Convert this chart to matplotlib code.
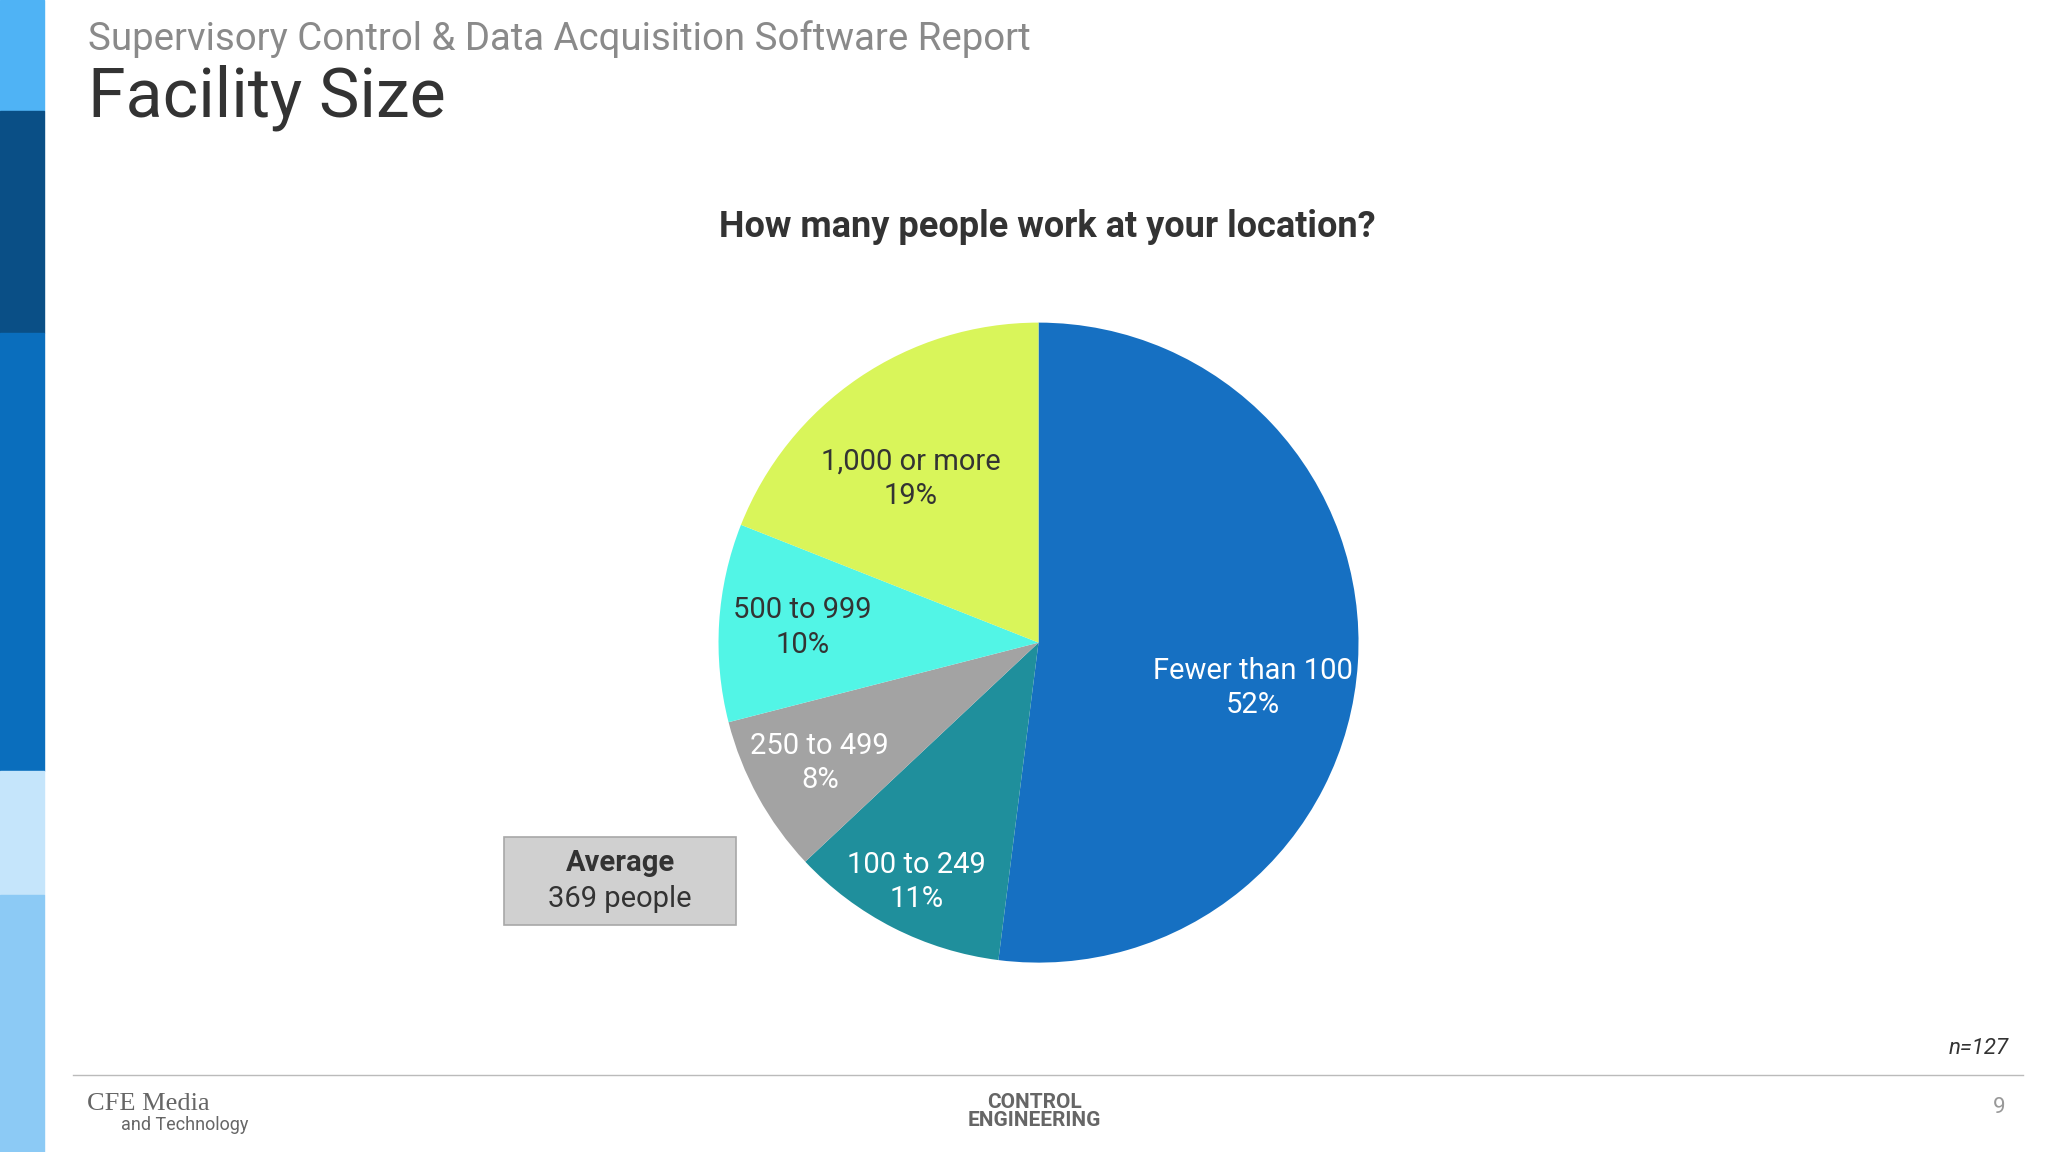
import matplotlib
matplotlib.use("Agg")
import matplotlib.pyplot as plt
import numpy as np
from matplotlib.patches import Rectangle

plt.rcParams['font.family'] = ['Roboto', 'DejaVu Sans']

categories = ["Fewer than 100", "100 to 249", "250 to 499", "500 to 999", "1,000 or more"]
values = [52, 11, 8, 10, 19]
colors = ["#1670c2", "#1f8f9c", "#a3a3a3", "#52f5e6", "#d9f55a"]
text_colors = ["white", "white", "white", "#333333", "#333333"]
label_r = [0.67, 0.84, 0.78, 0.74, 0.62]

W, H = 2048, 1152
fig = plt.figure(figsize=(W/100, H/100), dpi=100)
fig.patch.set_facecolor("white")

stripe = [(0, 85, "#4fb3f5"), (85, 255, "#0a4f86"), (255, 590, "#0a6ebd"),
          (590, 685, "#c5e5fb"), (685, 882, "#8ccaf5")]
for y0, y1, c in stripe:
    fig.patches.append(Rectangle((0, 1 - y1/882), 33/1552, (y1 - y0)/882,
                                 transform=fig.transFigure, color=c, zorder=0))

fig.text(67/1552, 1 - 30/882, "Supervisory Control & Data Acquisition Software Report",
         fontsize=27.6, color="#8a8a8a", va="center")
fig.text(67/1552, 1 - 75/882, "Facility Size", fontsize=49, color="#333333", va="center")
fig.text(794/1552, 1 - 174/882, "How many people work at your location?",
         fontsize=26, fontweight="bold", color="#333333", ha="center", va="center")

cx, cy = 787/1552, 1 - 492/882
r_frac = 245/882
h = 2*r_frac*1.05
w = h*H/W
ax = fig.add_axes([cx - w/2, cy - h/2, w, h])
wedges, _ = ax.pie(values, colors=colors, startangle=90, counterclock=False, radius=1)
ax.set_xlim(-1.05, 1.05); ax.set_ylim(-1.05, 1.05); ax.set_aspect("equal")
ax.axis("off")
for wd, cat, v, tc, rr in zip(wedges, categories, values, text_colors, label_r):
    a = np.deg2rad((wd.theta1 + wd.theta2)/2)
    dx = -0.05 if v == 19 else 0
    ax.text(rr*np.cos(a) + dx, rr*np.sin(a) - (0.1 if v == 52 else 0), f"{cat}\n{v}%",
            ha="center", va="center", fontsize=21, color=tc, linespacing=1.3)

fig.patches.append(Rectangle((382/1552, 1 - 708/882), 176/1552, 67/882,
                             transform=fig.transFigure, facecolor="#d0d0d0",
                             edgecolor="#a8a8a8", lw=1.2))
fig.text(470/1552, 1 - 661/882, "Average", fontsize=21, fontweight="bold",
         color="#333333", ha="center", va="center")
fig.text(470/1552, 1 - 688/882, "369 people", fontsize=21, color="#333333",
         ha="center", va="center")

fig.text(1522/1552, 1 - 803/882, "n=127", fontsize=16, style="italic",
         color="#333333", ha="right", va="center")
fig.lines.append(plt.Line2D([55/1552, 1533/1552], [1 - 823/882]*2,
                            transform=fig.transFigure, color="#bbbbbb", lw=1))
fig.text(66/1552, 1 - 845/882, "CFE Media", fontsize=19, family="Liberation Serif",
         color="#666666", va="center")
fig.text(92/1552, 1 - 861/882, "and Technology", fontsize=13, color="#666666", va="center")
fig.text(784/1552, 1 - 851/882, "CONTROL\nENGINEERING", fontsize=15, fontweight="bold",
         color="#666666", ha="center", va="center", linespacing=0.9)
fig.text(1520/1552, 1 - 848/882, "9", fontsize=16, color="#999999", ha="right", va="center")

fig.savefig("out.png", dpi=100)
